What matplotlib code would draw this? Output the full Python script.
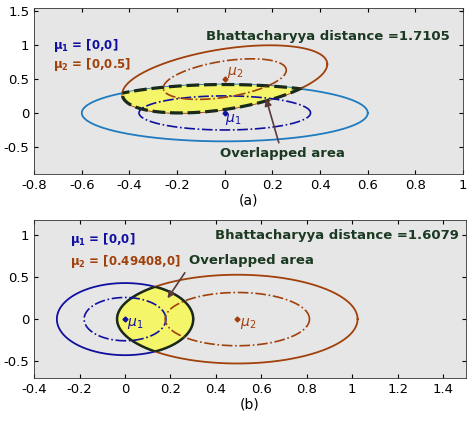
import matplotlib.pyplot as plt
import numpy as np
from matplotlib.patches import Polygon

# Panel (a): means and covariance-like shape matrices (solid contour)
mu1_a = [0.0, 0.0]
mu2_a = [0.0, 0.5]
cov1_a = [[0.36, 0.0], [0.0, 0.1764]]
cov2_a = [[0.185, 0.0946], [0.0946, 0.25]]
dist_a = "1.7105"

# Panel (b)
mu1_b = [0.0, 0.0]
mu2_b = [0.49408, 0.0]
cov1_b = [[0.09, 0.0], [0.0, 0.185]]
cov2_b = [[0.28, 0.0], [0.0, 0.28]]
dist_b = "1.6079"

INNER = 0.6  # dash-dot contour scale


def ellipse(mu, cov, scale=1.0, n=300):
    t = np.linspace(0, 2 * np.pi, n)
    L = np.linalg.cholesky(np.array(cov))
    pts = (L @ np.vstack([np.cos(t), np.sin(t)])) * scale
    return np.column_stack([pts[0] + mu[0], pts[1] + mu[1]])


def panel(ax, mu1, cov1, mu2, cov2, c1, c1in, c2, c2in, ls_overlap, lw_overlap):
    ax.set_facecolor("#e6e6e6")
    e1 = ellipse(mu1, cov1)
    e2 = ellipse(mu2, cov2)
    p1 = Polygon(e1, closed=True, facecolor="none", edgecolor="none")
    p2 = Polygon(e2, closed=True, facecolor="none", edgecolor="none")
    ax.add_patch(p1)
    ax.add_patch(p2)
    ax.plot(e1[:, 0], e1[:, 1], color=c1, lw=1.3)
    ax.plot(e2[:, 0], e2[:, 1], color=c2, lw=1.3)
    i1 = ellipse(mu1, cov1, INNER)
    i2 = ellipse(mu2, cov2, INNER)
    # overlap: ellipse 1 clipped by ellipse 2, plus ellipse 2 edge clipped by 1
    f = Polygon(e1, closed=True, facecolor="#f5f56a", edgecolor="#1a2a1a",
                lw=lw_overlap, ls=ls_overlap, zorder=3)
    ax.add_patch(f)
    f.set_clip_path(p2)
    g = Polygon(e2, closed=True, facecolor="none", edgecolor="#1a2a1a",
                lw=lw_overlap, ls=ls_overlap, zorder=4)
    ax.add_patch(g)
    g.set_clip_path(p1)
    ax.plot(i1[:, 0], i1[:, 1], color=c1in, lw=1.2, ls="-.", zorder=5)
    ax.plot(i2[:, 0], i2[:, 1], color=c2in, lw=1.2, ls="-.", zorder=5)
    ax.plot(*mu1, marker="D", ms=2.5, color=c1in, zorder=6)
    ax.plot(*mu2, marker="D", ms=2.5, color=c2in, zorder=6)
    for s in ax.spines.values():
        s.set_color("#333333")
        s.set_linewidth(0.6)
    ax.tick_params(labelsize=9.5, length=3, direction="in", top=True, right=True)


fig = plt.figure(figsize=(4.74, 4.25), dpi=100)
green = "#1c3a22"
blue_d = "#1010a0"
brown = "#a0400a"
arrow_c = "#5a3a3a"

ax1 = fig.add_axes([0.072, 0.591, 0.905, 0.39])
panel(ax1, mu1_a, cov1_a, mu2_a, cov2_a, "#1f7bbf", blue_d, brown, brown,
      (0, (4, 1.5)), 2.3)
ax1.set_xlim(-0.8, 1.0)
ax1.set_ylim(-0.9, 1.55)
ax1.set_xticks(np.arange(-0.8, 1.01, 0.2))
ax1.set_xticklabels(["-0.8", "-0.6", "-0.4", "-0.2", "0", "0.2", "0.4", "0.6", "0.8", "1"])
ax1.set_yticks([-0.5, 0, 0.5, 1, 1.5])
ax1.set_yticklabels(["-0.5", "0", "0.5", "1", "1.5"])
ax1.set_xlabel("(a)", fontsize=10, labelpad=1)
ax1.text(-0.08, 1.13, "Bhattacharyya distance =" + dist_a, color=green,
         fontsize=9.5, fontweight="bold", va="center")
ax1.text(-0.72, 1.0, r"$\mathbf{\mu_1}$ = [0,0]", color=blue_d,
         fontsize=8.5, fontweight="bold", va="center")
ax1.text(-0.72, 0.72, r"$\mathbf{\mu_2}$ = [0,0.5]", color=brown,
         fontsize=8.5, fontweight="bold", va="center")
ax1.text(mu2_a[0] + 0.01, mu2_a[1] + 0.1, r"$\mu_2$", color=brown, fontsize=10, va="center")
ax1.text(mu1_a[0] + 0.0, mu1_a[1] - 0.1, r"$\mu_1$", color=blue_d, fontsize=10, va="center")
ax1.text(-0.02, -0.6, "Overlapped area", color=green, fontsize=9.5,
         fontweight="bold", va="center")
ax1.annotate("", xy=(0.17, 0.25), xytext=(0.23, -0.48),
             arrowprops=dict(arrowstyle="-|>", color=arrow_c, lw=1.2), zorder=7)

ax2 = fig.add_axes([0.072, 0.111, 0.911, 0.371])
panel(ax2, mu1_b, cov1_b, mu2_b, cov2_b, blue_d, blue_d, brown, brown, "-", 1.8)
ax2.set_xlim(-0.4, 1.5)
ax2.set_ylim(-0.7, 1.18)
ax2.set_xticks(np.arange(-0.4, 1.41, 0.2))
ax2.set_xticklabels(["-0.4", "-0.2", "0", "0.2", "0.4", "0.6", "0.8", "1", "1.2", "1.4"])
ax2.set_yticks([-0.5, 0, 0.5, 1])
ax2.set_yticklabels(["-0.5", "0", "0.5", "1"])
ax2.set_xlabel("(b)", fontsize=10, labelpad=1)
ax2.text(1.47, 1.0, "Bhattacharyya distance =" + dist_b, color=green,
         fontsize=9.5, fontweight="bold", va="center", ha="right")
ax2.text(-0.24, 0.95, r"$\mathbf{\mu_1}$ = [0,0]", color=blue_d,
         fontsize=8.5, fontweight="bold", va="center")
ax2.text(-0.24, 0.69, r"$\mathbf{\mu_2}$ = [0.49408,0]", color=brown,
         fontsize=8.5, fontweight="bold", va="center")
ax2.text(mu1_b[0] + 0.01, mu1_b[1] - 0.05, r"$\mu_1$", color=blue_d, fontsize=10, va="center")
ax2.text(mu2_b[0] + 0.01, mu2_b[1] - 0.05, r"$\mu_2$", color=brown, fontsize=10, va="center")
ax2.text(0.28, 0.7, "Overlapped area", color=green, fontsize=9.5,
         fontweight="bold", va="center")
ax2.annotate("", xy=(0.18, 0.22), xytext=(0.27, 0.58),
             arrowprops=dict(arrowstyle="-|>", color=arrow_c, lw=1.2), zorder=7)

fig.savefig("out.png", dpi=100)
